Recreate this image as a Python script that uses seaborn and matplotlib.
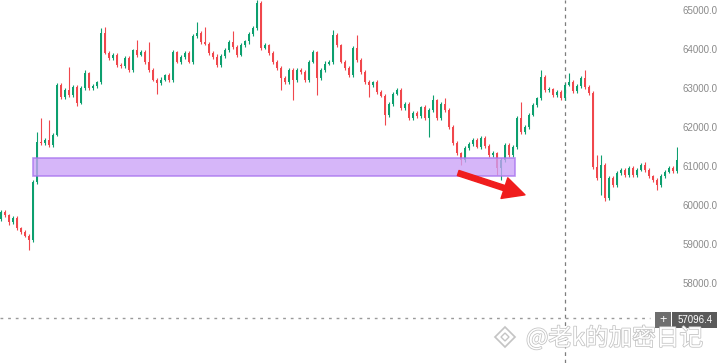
import numpy as np
import pandas as pd
import matplotlib
matplotlib.use("Agg")
import matplotlib.pyplot as plt
import matplotlib.patheffects as pe
from matplotlib.patches import Rectangle, Polygon
import seaborn as sns

# ---------------- data ----------------
open_first = 59650
closes = [
    59820, 59740, 59560, 59670, 59410, 59310, 59210, 59100, 60590, 61620,
    61590, 61670, 61540, 61800, 63080, 62770, 62950, 62820, 63030, 62620,
    63000, 63380, 63000, 63050, 63150, 64410, 63900, 63770, 63850, 63590,
    63560, 63770, 63460, 63970, 63850, 63920, 63670, 63460, 63210, 63130,
    63210, 63330, 63210, 63920, 63670, 63800, 63900, 63670, 64330, 64410,
    64180, 64130, 63900, 63800, 63590, 63820, 63970, 64180, 64050, 63850,
    64100, 64200, 64380, 64540, 65180, 64030, 64100, 63900, 63670, 63510,
    63260, 63150, 63460, 63210, 63460, 63410, 63210, 63670, 63920, 63260,
    63460, 63620, 63670, 64360, 64100, 63670, 63510, 63330, 64030, 63720,
    63410, 63150, 63080, 63150, 62900, 62800, 62310, 62590, 62850, 62950,
    62490, 62590, 62230, 62360, 62280, 62510, 62230, 62440, 62690, 62230,
    62590, 62440, 62000, 61590, 61330, 61150, 61460, 61560, 61670, 61490,
    61720, 61510, 61280, 61330, 60950, 61150, 61540, 61280, 61490, 62230,
    61870, 62000, 62310, 62560, 62740, 63280, 62950, 62970, 62820, 62900,
    62740, 63080, 63150, 62920, 63050, 63260, 63030, 62870, 60970, 60690,
    61030, 60180, 60690, 60510, 60820, 60900, 60770, 60950, 60770, 60900,
    61030, 60900, 60740, 60640, 60510, 60740, 60850, 60950, 60870, 61150,
]
upper_wick = [
    40, 60, 30, 50, 40, 30, 60, 40, 50, 250,
    610, 60, 510, 40, 50, 60, 40, 590, 50, 40,
    60, 80, 40, 50, 40, 130, 150, 60, 40, 50,
    40, 60, 50, 40, 260, 50, 60, 510, 40, 50,
    60, 40, 50, 60, 40, 50, 60, 40, 50, 280,
    40, 380, 50, 40, 60, 40, 50, 60, 280, 40,
    50, 40, 60, 50, 80, 50, 60, 40, 50, 40,
    60, 40, 50, 60, 40, 50, 40, 60, 50, 40,
    50, 60, 40, 130, 50, 40, 60, 50, 40, 330,
    40, 60, 50, 40, 60, 50, 40, 60, 50, 40,
    60, 50, 40, 60, 50, 40, 60, 50, 130, 40,
    50, 150, 40, 60, 50, 40, 60, 50, 40, 60,
    50, 40, 60, 50, 40, 60, 50, 40, 60, 50,
    410, 40, 60, 50, 40, 180, 60, 50, 40, 60,
    50, 40, 230, 60, 50, 40, 200, 50, 60, 310,
    250, 40, 60, 50, 40, 60, 50, 40, 60, 50,
    40, 60, 50, 40, 60, 50, 40, 60, 50, 340,
]
lower_wick = [
    50, 40, 60, 40, 50, 60, 40, 250, 50, 40,
    60, 40, 50, 60, 40, 50, 60, 40, 50, 80,
    40, 50, 60, 40, 50, 60, 40, 50, 60, 40,
    50, 60, 40, 50, 60, 40, 50, 60, 40, 280,
    50, 40, 60, 50, 40, 60, 50, 40, 60, 50,
    60, 40, 50, 60, 40, 50, 60, 40, 50, 60,
    40, 50, 60, 40, 50, 60, 40, 50, 60, 40,
    310, 50, 60, 520, 50, 40, 60, 50, 40, 440,
    50, 60, 40, 50, 60, 40, 50, 60, 40, 50,
    60, 40, 310, 50, 60, 40, 260, 50, 60, 40,
    50, 60, 40, 50, 60, 40, 50, 490, 60, 40,
    50, 60, 40, 50, 60, 120, 40, 50, 60, 40,
    50, 60, 40, 50, 180, 310, 60, 40, 50, 60,
    40, 50, 60, 40, 50, 60, 40, 50, 60, 40,
    50, 60, 40, 50, 60, 40, 50, 60, 40, 50,
    430, 80, 50, 60, 40, 50, 60, 40, 50, 60,
    40, 50, 60, 40, 120, 50, 60, 40, 50, 60,
]
ytick_values = [58000, 59000, 60000, 61000, 62000, 63000, 64000, 65000]
zone_low, zone_high = 60744, 61205
zone_start, zone_end = 8, 128.5
arrow_start = (114.3, 60820)
arrow_end = (131.0, 60260)
cursor_index = 141
last_price = 57096.4
watermark = "@老k的加密日记"

# ---------------- style ----------------
sns.set_theme(style="white")
plt.rcParams['font.family'] = ['Liberation Sans', 'DejaVu Sans']

GREEN = '#0c9f6e'
RED = '#f0474c'

opens = [open_first] + closes[:-1]
df = pd.DataFrame({
    'idx': np.arange(len(closes)),
    'open': opens,
    'close': closes,
    'uw': upper_wick,
    'lw': lower_wick,
})
df['top'] = df[['open', 'close']].max(axis=1)
df['bot'] = df[['open', 'close']].min(axis=1)
df['high'] = df['top'] + df['uw']
df['low'] = df['bot'] - df['lw']
df['up'] = df['close'] >= df['open']
df['color'] = np.where(df['up'], GREEN, RED)
df['body'] = np.maximum(df['top'] - df['bot'], 18)

W, H = 717, 363
fig = plt.figure(figsize=(W / 100, H / 100), dpi=100)
fig.patch.set_facecolor('white')
ax = fig.add_axes([0, 0, 678 / W, 1])
ax.set_facecolor('white')

ax.set_xlim(-0.25, 169.25)
ax.set_ylim(55949, 65256)

# cursor & price lines
ax.axvline(cursor_index, color='#7d7d7d', lw=0.9, dashes=(3, 3), zorder=1)
ax.axhline(last_price, xmin=0, xmax=650 / 678, color='#9a9a9a', lw=1.0,
           dashes=(2, 3.5), zorder=1)

# candles
ax.vlines(df['idx'], df['low'], df['high'], colors=df['color'], lw=0.8, zorder=2)
ax.bar(df['idx'], df['body'], bottom=df['bot'], width=0.7,
       color=df['color'], linewidth=0, zorder=3)

# zone
ax.add_patch(Rectangle((zone_start, zone_low), zone_end - zone_start,
                       zone_high - zone_low, facecolor='#cba2f8', alpha=0.78,
                       edgecolor='#a874ef', lw=1.2, zorder=4))

# arrow
ax.annotate('', xy=arrow_end, xytext=arrow_start,
            arrowprops=dict(arrowstyle='simple,head_length=1.3,head_width=1.3,tail_width=0.32',
                            color='#f01d1d', mutation_scale=12, shrinkA=0, shrinkB=0),
            zorder=5)

# axis
ax.yaxis.tick_right()
ax.set_yticks(ytick_values)
ax.set_yticklabels([f"{v:.1f}" for v in ytick_values])
ax.tick_params(axis='y', length=0, pad=3, labelsize=7, labelcolor='#8a8a8a')
ax.set_xticks([])
for s in ax.spines.values():
    s.set_visible(False)
ax.grid(False)

# last price label
def px(x, y):
    return x / W, 1 - y / H

fig.patches.append(Rectangle(px(655, 328), 16 / W, 16 / H, transform=fig.transFigure,
                             facecolor='#6e6e6e', edgecolor='none', zorder=10))
fig.patches.append(Rectangle(px(672, 328), 45 / W, 16 / H, transform=fig.transFigure,
                             facecolor='#5a5a5a', edgecolor='none', zorder=10))
fig.text(*px(663, 320), '+', color='white', fontsize=9, ha='center', va='center', zorder=11)
fig.text(*px(695, 320), f"{last_price:.1f}", color='white', fontsize=7,
         ha='center', va='center', zorder=11)

# watermark
outline = [pe.withStroke(linewidth=1.1, foreground='#c2c2c2')]
cx, cy = px(505, 337)
sx, sy = 10 / W, 10 / H
fig.patches.append(Polygon([(cx, cy + sy), (cx + sx, cy), (cx, cy - sy), (cx - sx, cy)],
                           closed=True, transform=fig.transFigure, facecolor='white',
                           edgecolor='#c4c4c4', lw=1.2, zorder=10))
sx2, sy2 = 4 / W, 4 / H
fig.patches.append(Polygon([(cx, cy + sy2), (cx + sx2, cy), (cx, cy - sy2), (cx - sx2, cy)],
                           closed=True, transform=fig.transFigure, facecolor='white',
                           edgecolor='#c4c4c4', lw=1.0, zorder=10))
fig.text(*px(526, 338), watermark, color='white', fontsize=17,
         family=['Noto Sans CJK SC', 'DejaVu Sans'], ha='left', va='center',
         path_effects=outline, zorder=11)

fig.savefig('out.png', dpi=100, facecolor='white')
